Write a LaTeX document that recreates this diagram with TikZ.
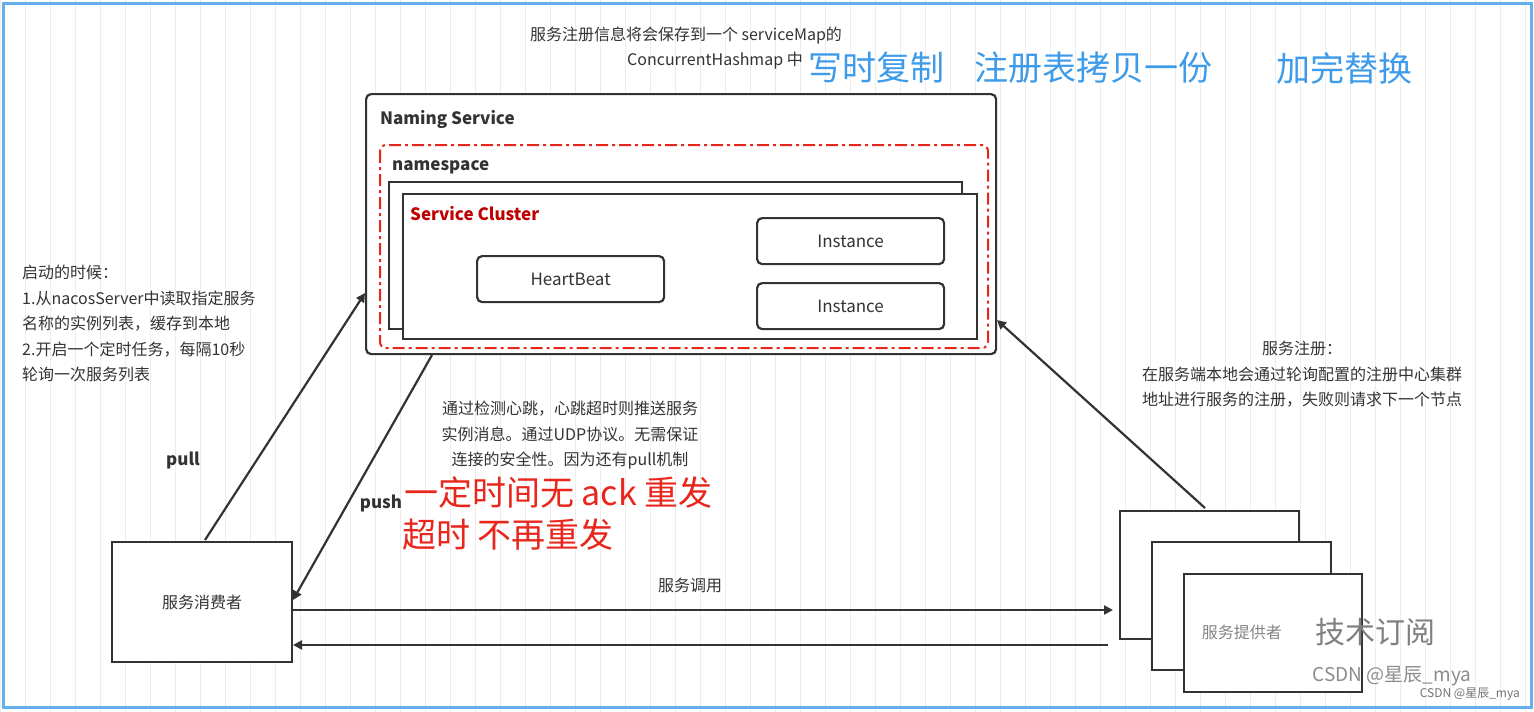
\documentclass[tikz,border=0pt]{standalone}
\usepackage{fontspec}
\setmainfont{Noto Sans CJK SC}
\usetikzlibrary{arrows.meta}
\definecolor{ln}{HTML}{333333}
\definecolor{bl}{HTML}{3D9BE9}
\definecolor{rd}{HTML}{E8261C}
\begin{document}
\begin{tikzpicture}[x=1pt,y=-1pt,
  box/.style={draw=ln,line width=2.2pt,fill=white},
  rbox/.style={draw=ln,line width=2.2pt,fill=white,rounded corners=5pt},
  arr/.style={draw=ln,line width=2.2pt,-{Triangle[length=9pt,width=9pt]}},
  t/.style={font=\fontsize{16}{19}\selectfont,text=ln,inner sep=0pt},
  big/.style={font=\fontsize{34}{38}\selectfont,inner sep=0pt}]
\useasboundingbox (0,0) rectangle (1534,712);
\fill[white] (0,0) rectangle (1534,712);
\draw[black!7,line width=0.6pt] (0,0) grid[step=25] (1534,712);
\draw[bl!80,line width=3pt] (3,3) rectangle (1531,707);
% naming service
\node[rbox,minimum width=630,minimum height=260,anchor=north west] (ns) at (365,93) {};
\node[t,font=\fontsize{17}{20}\selectfont\bfseries,anchor=west] (nst) at (380,119) {Naming Service};
\draw[rd,line width=2pt,dash pattern=on 12pt off 4pt on 3pt off 4pt,rounded corners=6pt] (380,145) rectangle (988,348);
\node[t,font=\fontsize{17}{20}\selectfont\bfseries,anchor=west] (nsp) at (392,167) {namespace};
\node[box,minimum width=573,minimum height=147,anchor=north west] (c1) at (388,181) {};
\node[box,minimum width=574,minimum height=145,anchor=north west] (c2) at (402,193) {};
\node[t,font=\fontsize{17}{20}\selectfont\bfseries,text=red!75!black,anchor=west] (sc) at (410,214) {Service Cluster};
\node[rbox,minimum width=187,minimum height=46,anchor=north west] (hb) at (476,255) {};
\node[t,font=\fontsize{17}{20}\selectfont] at (hb) {HeartBeat};
\node[rbox,minimum width=187,minimum height=46,anchor=north west] (i1) at (756,217) {};
\node[t,font=\fontsize{17}{20}\selectfont] at (i1) {Instance};
\node[rbox,minimum width=187,minimum height=46,anchor=north west] (i2) at (756,282) {};
\node[t,font=\fontsize{17}{20}\selectfont] at (i2) {Instance};
% consumer / providers
\node[box,minimum width=180,minimum height=120,anchor=north west] (cs) at (111,541) {};
\node[t] at (cs) {服务消费者};
\node[box,minimum width=179,minimum height=128,anchor=north west] (p1) at (1119,510) {};
\node[box,minimum width=179,minimum height=128,anchor=north west] (p2) at (1151,541) {};
\node[box,minimum width=178,minimum height=118,anchor=north west] (p3) at (1183,573) {};
\node[t,text=ln!60,anchor=east] (pt) at (1282,632) {服务提供者};
% arrows
\coordinate (a1) at (205,540); \coordinate (a1e) at (365,293);
\draw[arr] (a1) -- (a1e);
\coordinate (b1) at (432,355); \coordinate (b1e) at (293,600);
\draw[arr] (b1) -- (b1e);
\coordinate (r1) at (1205,508); \coordinate (r1e) at (997,320);
\draw[arr] (r1) -- (r1e);
\coordinate (s1) at (293,610); \coordinate (s1e) at (1113,610);
\draw[arr] (s1) -- (s1e);
\coordinate (s2) at (1108,645); \coordinate (s2e) at (293,645);
\draw[arr] (s2) -- (s2e);
% texts
\node[t] (tt1) at (686,36) {服务注册信息将会保存到一个 serviceMap的};
\node[t,anchor=east] (tt2) at (803,61) {ConcurrentHashmap 中};
\node[big,text=bl,anchor=west] (tb1) at (808,68) {写时复制};
\node[big,text=bl,anchor=west] (tb2) at (974,68) {注册表拷贝一份};
\node[big,text=bl,anchor=west] (tb3) at (1276,68) {加完替换};
\node[t,anchor=north west,align=left,font=\fontsize{16}{25.5}\selectfont] (lt) at (22,265) {启动的时候：\\1.从nacosServer中读取指定服务\\名称的实例列表，缓存到本地\\2.开启一个定时任务，每隔10秒\\轮询一次服务列表};
\node[t,font=\fontsize{17}{20}\selectfont\bfseries] (pl) at (183,460) {pull};
\node[t,font=\fontsize{17}{20}\selectfont\bfseries] (ps) at (381,503) {push};
\node[t,anchor=north,align=center,font=\fontsize{16}{25.5}\selectfont] (mt) at (570,401) {通过检测心跳，心跳超时则推送服务\\实例消息。通过UDP协议。无需保证\\连接的安全性。因为还有pull机制};
\node[big,text=rd,anchor=west] (r1t) at (404,493) {一定时间无 ack 重发};
\node[big,text=rd,anchor=west] (r2t) at (402,535) {超时 不再重发};
\node[t,anchor=north,align=center,font=\fontsize{16}{25.5}\selectfont] (rt) at (1302,341) {服务注册：\\在服务端本地会通过轮询配置的注册中心集群\\地址进行服务的注册，失败则请求下一个节点};
\node[t] (call) at (690,585) {服务调用};
\node[t,font=\fontsize{30}{34}\selectfont,text=black!50] (wm) at (1375,632) {技术订阅};
\node[t,font=\fontsize{19}{22}\selectfont,text=black!45] (wm2) at (1392,676) {CSDN @星辰\_mya};
\node[t,font=\fontsize{12}{14}\selectfont,text=black!55,anchor=east] (wm3) at (1520,694) {CSDN @星辰\_mya};
\end{tikzpicture}
\end{document}
